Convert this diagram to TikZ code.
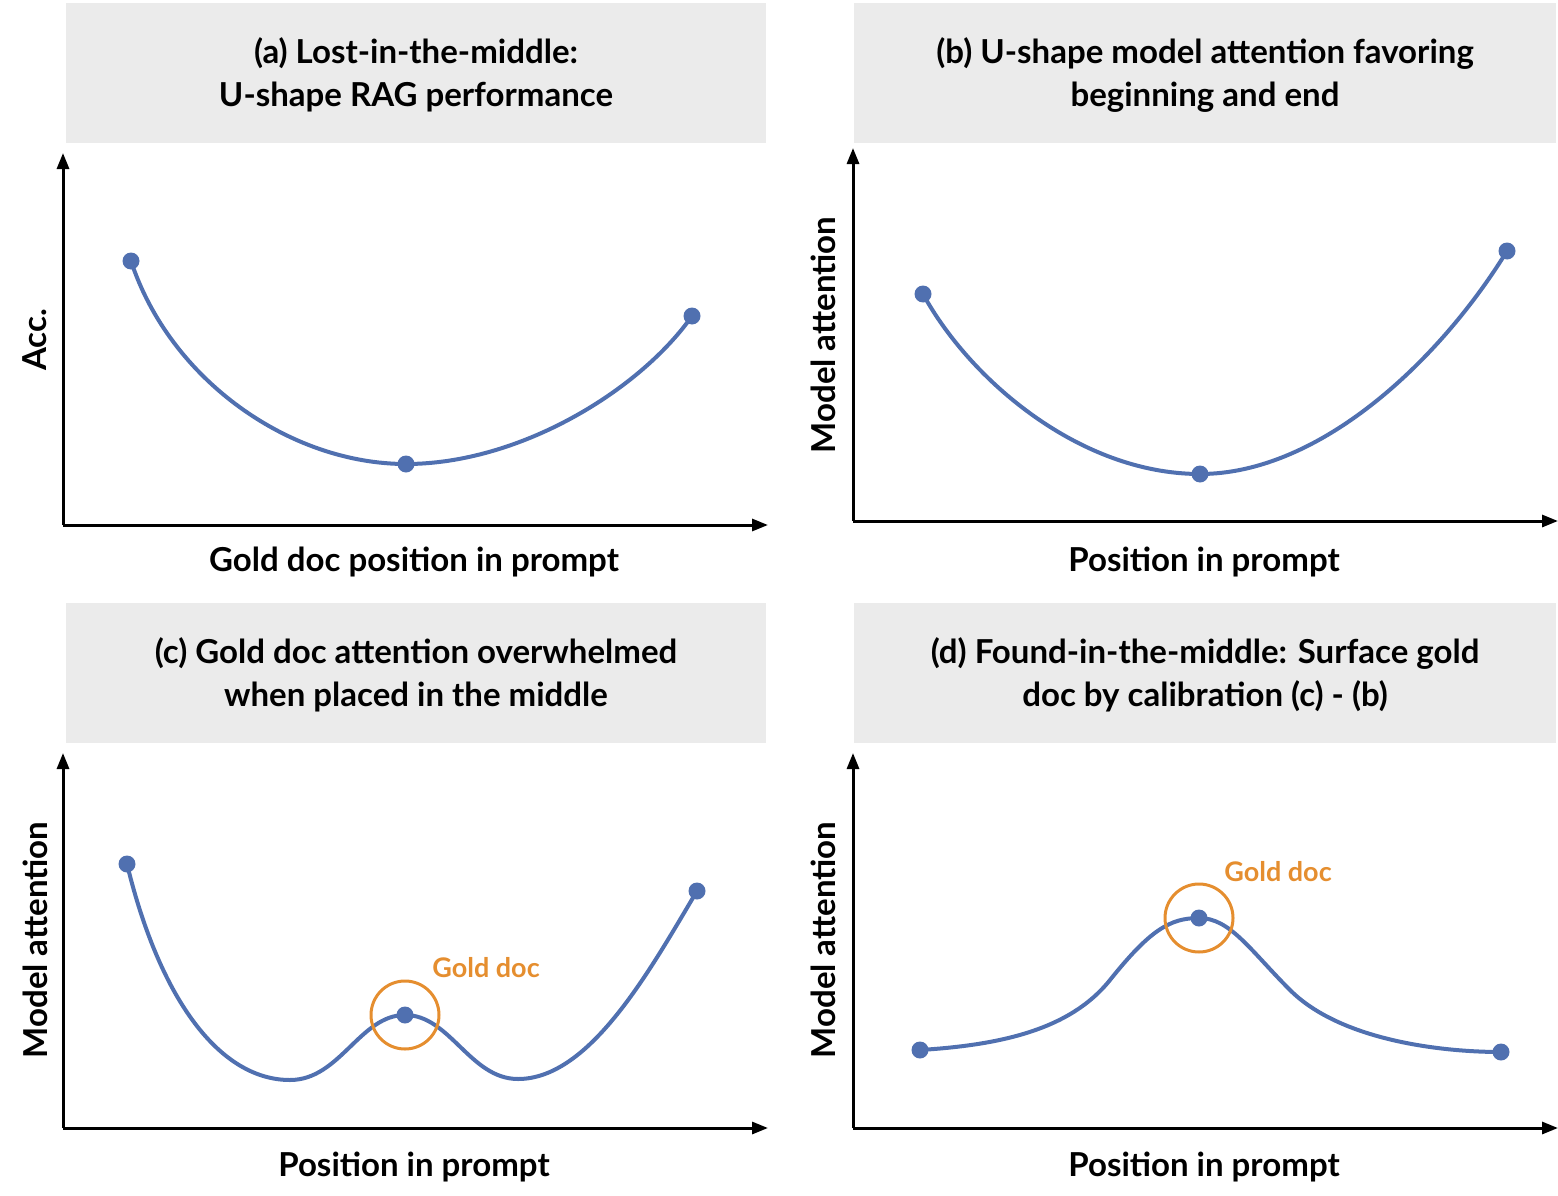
\documentclass[tikz,border=0pt]{standalone}
\usepackage{fontspec}
\setmainfont{Lato}
\usetikzlibrary{arrows.meta}
\definecolor{cblue}{HTML}{5070B0}
\definecolor{corange}{HTML}{E58E2F}
\definecolor{cgray}{HTML}{EBEBEB}
\begin{document}
\begin{tikzpicture}[x=1pt,y=-1pt,
  titlebox/.style={fill=cgray,draw=none},
  ttl/.style={font=\fontsize{33}{43}\selectfont\bfseries,align=center},
  lbl/.style={font=\fontsize{33}{40}\selectfont\bfseries},
  axis/.style={line width=3pt,-{Triangle[length=16pt,width=12pt]}},
  curve/.style={cblue,line width=4pt},
  dot/.style={circle,fill=cblue,inner sep=0pt,minimum size=17pt},
  ring/.style={circle,draw=corange,line width=3pt,inner sep=0pt,minimum size=68pt},
  gold/.style={font=\fontsize{27}{32}\selectfont\bfseries,text=corange}]
\useasboundingbox (0,0) rectangle (1558,1196);
% (a)
\fill[titlebox] (66,3) rectangle (766,143);
\node[ttl] (ta) at (416,75) {(a) Lost-in-the-middle:\\U-shape RAG performance};
\coordinate (oa) at (63,525); \coordinate (ya) at (63,153); \coordinate (xa) at (768,525);
\draw[axis] (oa) -- (ya); \draw[axis] (oa) -- (xa);
\node[lbl] (xla) at (414,562) {Gold doc position in prompt};
\node[lbl,rotate=90] (yla) at (35,340) {Acc.};
\draw[curve] (131,261) .. controls (170,380) and (290,464) .. (406,464) .. controls (520,464) and (640,390) .. (692,316);
\node[dot] (a1) at (131,261) {}; \node[dot] (a2) at (406,464) {}; \node[dot] (a3) at (692,316) {};
% (b)
\fill[titlebox] (854,3) rectangle (1556,143);
\node[ttl] (tb) at (1205,75) {(b) U-shape model attention favoring\\beginning and end};
\coordinate (ob) at (853,521); \coordinate (yb) at (853,148); \coordinate (xb) at (1558,521);
\draw[axis] (ob) -- (yb); \draw[axis] (ob) -- (xb);
\node[lbl] (xlb) at (1204,562) {Position in prompt};
\node[lbl,rotate=90] (ylb) at (823,335) {Model attention};
\draw[curve] (923,294) .. controls (970,380) and (1080,474) .. (1200,474) .. controls (1320,474) and (1440,360) .. (1507,251);
\node[dot] (b1) at (923,294) {}; \node[dot] (b2) at (1200,474) {}; \node[dot] (b3) at (1507,251) {};
% (c)
\fill[titlebox] (66,603) rectangle (766,743);
\node[ttl] (tc) at (416,675) {(c) Gold doc attention overwhelmed\\when placed in the middle};
\coordinate (oc) at (63,1128); \coordinate (yc) at (63,753); \coordinate (xc) at (768,1128);
\draw[axis] (oc) -- (yc); \draw[axis] (oc) -- (xc);
\node[lbl] (xlc) at (414,1167) {Position in prompt};
\node[lbl,rotate=90] (ylc) at (35,940) {Model attention};
\draw[curve] (127,864) .. controls (160,1000) and (220,1080) .. (290,1080) .. controls (340,1080) and (360,1015) .. (405,1015) .. controls (450,1015) and (470,1079) .. (518,1079) .. controls (590,1079) and (650,970) .. (697,891);
\node[dot] (c1) at (127,864) {}; \node[dot] (c2) at (405,1015) {}; \node[dot] (c3) at (697,891) {};
\node[ring] (rc) at (405,1015) {};
\node[gold] (gc) at (486,968) {Gold doc};
% (d)
\fill[titlebox] (854,603) rectangle (1556,743);
\node[ttl] (td) at (1205,675) {(d) Found-in-the-middle: Surface gold\\doc by calibration (c) - (b)};
\coordinate (od) at (853,1128); \coordinate (yd) at (853,753); \coordinate (xd) at (1558,1128);
\draw[axis] (od) -- (yd); \draw[axis] (od) -- (xd);
\node[lbl] (xld) at (1204,1167) {Position in prompt};
\node[lbl,rotate=90] (yld) at (823,940) {Model attention};
\draw[curve] (920,1050) .. controls (1000,1045) and (1070,1030) .. (1110,980) .. controls (1150,930) and (1170,918) .. (1199,918) .. controls (1230,918) and (1250,950) .. (1290,990) .. controls (1340,1040) and (1440,1052) .. (1501,1052);
\node[dot] (d1) at (920,1050) {}; \node[dot] (d2) at (1199,918) {}; \node[dot] (d3) at (1501,1052) {};
\node[ring] (rd) at (1199,918) {};
\node[gold] (gd) at (1278,872) {Gold doc};
\end{tikzpicture}
\end{document}
